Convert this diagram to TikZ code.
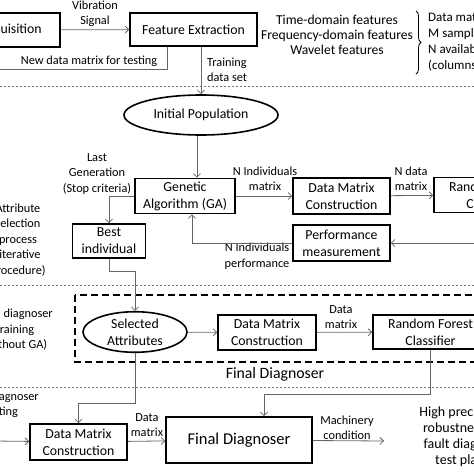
\documentclass[tikz,border=0pt]{standalone}
\usepackage{fontspec}
\setmainfont{Carlito}
\usetikzlibrary{arrows,arrows.meta,shapes,positioning}
\usetikzlibrary{decorations.pathreplacing}

\tikzset{
  block/.style={draw, line width=1.6pt, fill=white, align=center, inner sep=2pt,
    font=\fontsize{13.8}{17}\selectfont},
  oval/.style={draw, ellipse, line width=1.6pt, fill=white, align=center, inner sep=1pt,
    font=\fontsize{13.8}{17}\selectfont},
  lbl/.style={align=center, inner sep=1pt, font=\fontsize{12.3}{15.5}\selectfont},
  link/.style={draw=black!60, line width=0.8pt},
  arr/.style={link, -{Straight Barb[length=3.5pt,width=7pt]}},
  sepline/.style={draw=black!55, line width=0.6pt, dash pattern=on 2pt off 2pt},
}

\begin{document}
\begin{tikzpicture}[x=1pt,y=-1pt]
  \useasboundingbox (0,0) rectangle (474,474);
  \clip (0,0) rectangle (474,474);

  % separators
  \draw[sepline] (0,86) -- (474,86);
  \draw[sepline] (0,285) -- (474,285);
  \draw[sepline] (0,387) -- (474,387);

  % final diagnoser frame
  \draw[line width=1.6pt, dash pattern=on 7pt off 4pt] (75,295) rectangle (520,362);
  \node[font=\fontsize{15.8}{18}\selectfont] (fdlabel) at (275,374) {Final Diagnoser};

  % feature extraction
  \node[block, minimum width=128pt, minimum height=34pt] (acq) at (-4,30) {Data Acquisition};
  \node[block, minimum width=127pt, minimum height=33pt] (fe) at (193.5,29.5) {Feature Extraction};
  \node[lbl] (vib) at (95,14) {Vibration\\Signal};
  \coordinate (newdata) at (-5,69);
  \node[lbl] (newlbl) at (89,61) {New data matrix for testing};
  \node[lbl, align=left, anchor=west] (train) at (206,70) {Training\\data set};
  \node[lbl, font=\fontsize{13.6}{15}\selectfont] (feats) at (337,35)
    {Time-domain features\\Frequency-domain features\\Wavelet features};
  \draw[decorate, decoration={brace, amplitude=5pt}, line width=0.8pt] (416,11) -- (416,74);
  \node[lbl, align=left, anchor=west, font=\fontsize{13}{16}\selectfont] (matinfo) at (427,42)
    {Data matrix:\\M samples\\N available features\\(columns)};

  % attribute selection
  \node[oval, minimum width=154pt, minimum height=40pt] (initpop) at (201,115) {Initial Population};
  \node[block, minimum width=100pt, minimum height=35pt] (ga) at (185,196) {Genetic\\Algorithm (GA)};
  \node[block, minimum width=73pt, minimum height=34pt] (best) at (109,241) {Best\\individual};
  \node[block, minimum width=97pt, minimum height=36pt] (dmca) at (341.5,196) {Data Matrix\\Construction};
  \node[block, minimum width=115pt, minimum height=35pt] (rfa) at (491.5,195) {Random Forest\\Classifier};
  \node[block, minimum width=97pt, minimum height=36pt] (perf) at (341.5,243) {Performance\\measurement};
  \node[lbl] (lastgen) at (97,174) {Last\\Generation\\(Stop criteria)};
  \node[lbl] (attsel) at (18,240) {Attribute\\selection\\process\\(iterative\\procedure)};
  \node[lbl] (nind) at (265,179) {N Individuals\\matrix};
  \node[lbl] (ndata) at (411,179) {N data\\matrix};
  \node[lbl] (nperf) at (257,256) {N Individuals\\performance};

  % final diagnoser training
  \node[oval, minimum width=104pt, minimum height=40pt] (selatt) at (135,332) {Selected\\Attributes};
  \node[block, minimum width=98pt, minimum height=35pt] (dmcb) at (267,332.5) {Data Matrix\\Construction};
  \node[block, minimum width=115pt, minimum height=34pt] (rfb) at (430.5,332) {Random Forest\\Classifier};
  \node[lbl] (dmatb) at (341,317) {Data\\matrix};
  \node[lbl] (fdtrain) at (15,330) {Final diagnoser\\training\\(without GA)};

  % final diagnoser testing
  \node[block, minimum width=97pt, minimum height=36pt] (dmcc) at (78.5,442) {Data Matrix\\Construction};
  \node[block, minimum width=146pt, minimum height=46pt, font=\fontsize{16.5}{19}\selectfont] (fd) at (239,440) {Final Diagnoser};
  \coordinate (testin) at (-5,441);
  \coordinate (out) at (384,441);
  \node[lbl] (dmatc) at (147,425) {Data\\matrix};
  \node[lbl] (mach) at (347,428) {Machinery\\condition};
  \node[lbl] (fdtest) at (1,405) {Final diagnoser\\testing};
  \node[lbl, font=\fontsize{14}{16}\selectfont] (result) at (472,437)
    {High precision and\\robustness in the\\fault diagnosis of\\test platform};

  % connectors
  \draw[arr] (acq) -- (fe);
  \draw[link] ([xshift=-26.5pt]fe.south) |- (newdata);
  \draw[arr] (initpop.north |- fe.south) -- (initpop.north);
  \draw[arr] ([xshift=-4pt]initpop.south) -- ([xshift=-4pt]initpop.south |- ga.north);
  \draw[arr] (ga.west) -| (best.north);
  \draw[arr] (best.south) |- ([yshift=40pt]selatt.north) -- (selatt.north);
  \draw[arr] (ga) -- (dmca);
  \draw[arr] (dmca) -- (rfa);
  \draw[arr] (rfa.south) |- (perf.east);
  \draw[arr] (perf.west) -| ([xshift=7pt]ga.south);
  \draw[arr] (selatt) -- (dmcb);
  \draw[arr] (dmcb) -- (rfb);
  \draw[arr] (rfb.south) |- ([xshift=25pt,yshift=22pt]fd.north) -- ([xshift=25pt]fd.north);
  \draw[arr] (selatt.south) |- ([yshift=20pt]dmcc.north) -- (dmcc.north);
  \draw[arr] (testin) -- (dmcc);
  \draw[arr] (dmcc) -- (fd);
  \draw[arr] (fd) -- (out);
\end{tikzpicture}
\end{document}
